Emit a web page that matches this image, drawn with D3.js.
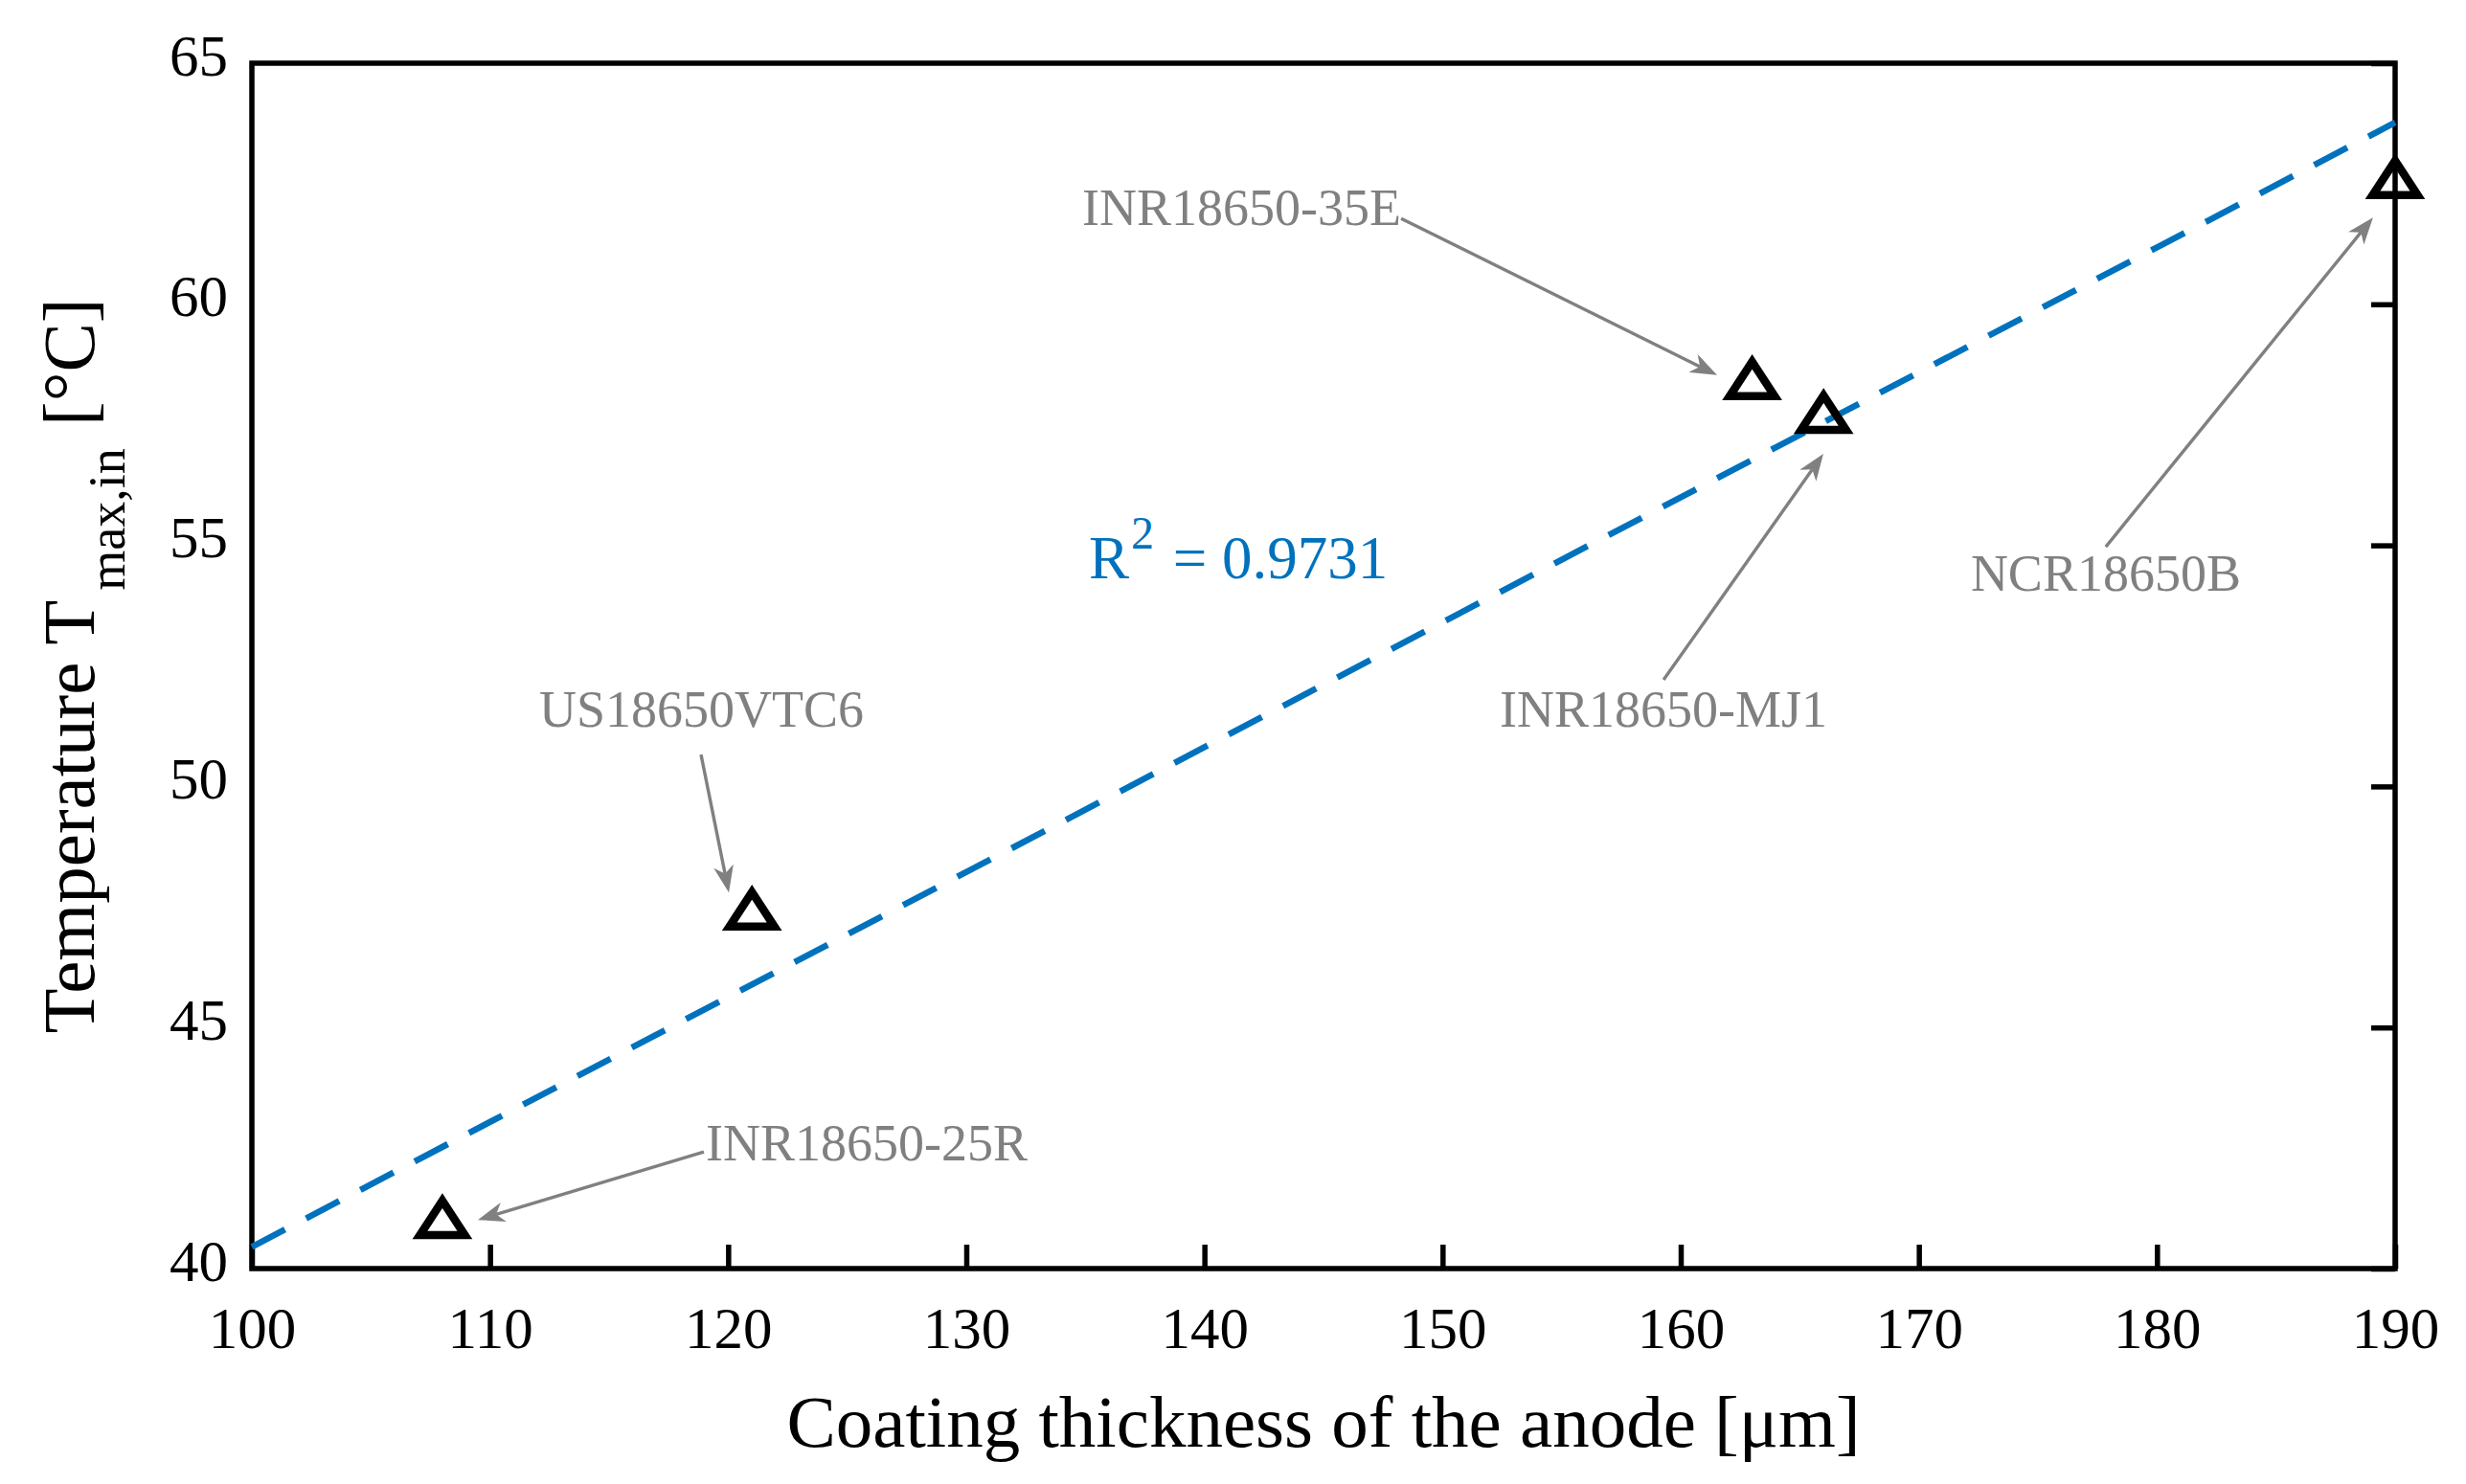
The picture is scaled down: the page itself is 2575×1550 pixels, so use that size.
<!DOCTYPE html>
<html>
<head>
<meta charset="utf-8">
<script src="https://cdn.jsdelivr.net/npm/d3@7"></script>
<style>
  html, body { margin: 0; padding: 0; background: #fff; }
  svg { display: block; }
  text { font-family: "Liberation Serif", "Times New Roman", serif; }
</style>
</head>
<body>
<svg id="chart" width="2575" height="1550"></svg>
<script>
// ---- data ----
const cellNames   = ["INR18650-25R", "US18650VTC6", "INR18650-35E", "INR18650-MJ1", "NCR18650B"];
const thickness   = [108, 121, 163, 166, 190];          // µm
const tempMax     = [41.05, 47.45, 58.45, 57.75, 62.62]; // °C
const xTicks      = [100, 110, 120, 130, 140, 150, 160, 170, 180, 190];
const yTicks      = [40, 45, 50, 55, 60, 65];
const fitX        = [100, 190];
const fitY        = [40.45, 63.77];
const r2Text      = "0.9731";
// annotation label anchor and arrow (data units)
const labelX      = [119.06, 112.06, 134.87, 152.40, 172.18];
const labelY      = [42.24, 51.24, 61.64, 51.24, 54.06];
const arrowFromX  = [118.98, 118.86, 148.26, 159.28, 177.85];
const arrowFromY  = [42.42, 50.66, 61.78, 52.21, 54.97];
const arrowToX    = [109.49, 120.03, 161.53, 165.99, 189.07];
const arrowToY    = [41.01, 47.80, 58.53, 56.90, 61.80];
const r2Pos       = [135.15, 54.32];

// ---- layout ----
const L = 263, R = 2501, T = 66, B = 1325;
const x = d3.scaleLinear().domain([100, 190]).range([L, R]);
const y = d3.scaleLinear().domain([40, 65]).range([B, T]);
const svg = d3.select("#chart");
const blue = "#0072BD", gray = "#808080";
const tickLen = 25, axW = 5.5;

// axes (ticks only on bottom and right, labels bottom and left)
const gB = svg.append("g").attr("transform", `translate(0,${B})`)
  .call(d3.axisBottom(x).tickValues(xTicks).tickSize(-tickLen).tickFormat(d3.format("d")));
gB.selectAll("text").attr("y", 83).attr("dy", 0).style("font-size", "61px").attr("fill", "#000");
const gL = svg.append("g").attr("transform", `translate(${L},0)`)
  .call(d3.axisLeft(y).tickValues(yTicks).tickSize(0).tickFormat(d3.format("d")));
gL.selectAll("text").attr("x", -25).attr("dy", 0).attr("y", 12).style("font-size", "61px").attr("fill", "#000");
const gR = svg.append("g").attr("transform", `translate(${R},0)`)
  .call(d3.axisRight(y).tickValues(yTicks).tickSize(-tickLen).tickFormat(""));
[gB, gL, gR].forEach(g => {
  g.select(".domain").remove();
  g.selectAll("line").attr("stroke", "#000").attr("stroke-width", axW);
  g.attr("font-family", null).attr("font-size", null);
});
gL.selectAll("line").remove();
svg.append("rect").attr("x", L).attr("y", T).attr("width", R - L).attr("height", B - T)
  .attr("fill", "none").attr("stroke", "#000").attr("stroke-width", axW);

// fit line
svg.append("path")
  .datum(fitX.map((d, i) => [d, fitY[i]]))
  .attr("d", d3.line().x(d => x(d[0])).y(d => y(d[1])))
  .attr("fill", "none").attr("stroke", blue).attr("stroke-width", 6.5)
  .attr("stroke-dasharray", "39,25");

// R^2 label
const r2 = svg.append("text").attr("x", x(r2Pos[0])).attr("y", y(r2Pos[1]))
  .attr("fill", blue).style("font-size", "63px");
r2.append("tspan").text("R");
r2.append("tspan").attr("dy", -31).attr("dx", 2).style("font-size", "48px").text("2");
r2.append("tspan").attr("dy", 31).attr("dx", 4).text(" = " + r2Text);

// markers
const tw = 47, th = 36;
svg.append("g").selectAll("path").data(thickness).join("path")
  .attr("transform", (d, i) => `translate(${x(d)},${y(tempMax[i])})`)
  .attr("d", `M0,${-th/2}L${tw/2},${th/2}L${-tw/2},${th/2}Z`)
  .attr("fill", "none").attr("stroke", "#000").attr("stroke-width", 8.5)
  .attr("stroke-linejoin", "miter").attr("stroke-miterlimit", 10);

// annotations
const ann = svg.append("g");
cellNames.forEach((name, i) => {
  ann.append("text").attr("x", x(labelX[i])).attr("y", y(labelY[i]))
    .attr("fill", gray).style("font-size", "54px").text(name);
  const x0 = x(arrowFromX[i]), y0 = y(arrowFromY[i]);
  const x1 = x(arrowToX[i]), y1 = y(arrowToY[i]);
  const a = Math.atan2(y1 - y0, x1 - x0);
  const hl = 28, hw = 10.5, notch = 20;
  const ux = Math.cos(a), uy = Math.sin(a), px = -uy, py = ux;
  const bx = x1 - ux * hl, by = y1 - uy * hl;
  const nx = x1 - ux * notch, ny = y1 - uy * notch;
  ann.append("line").attr("x1", x0).attr("y1", y0).attr("x2", nx).attr("y2", ny)
    .attr("stroke", gray).attr("stroke-width", 3.4);
  ann.append("path")
    .attr("d", `M${x1},${y1}L${bx + px*hw},${by + py*hw}L${nx},${ny}L${bx - px*hw},${by - py*hw}Z`)
    .attr("fill", gray);
});

// axis titles
svg.append("text").attr("x", (L + R) / 2).attr("y", 1511).attr("text-anchor", "middle")
  .style("font-size", "77px").attr("fill", "#000").text("Coating thickness of the anode [μm]");
const yt = svg.append("text").attr("transform", `translate(98,${(T + B) / 2}) rotate(-90)`)
  .attr("text-anchor", "middle").style("font-size", "77px").attr("fill", "#000");
yt.append("tspan").text("Temperature T");
yt.append("tspan").attr("dy", 32).attr("dx", 10).style("font-size", "54px").text("max,in");
yt.append("tspan").attr("dy", -32).attr("dx", 4).text(" [°C]");
</script>
</body>
</html>
